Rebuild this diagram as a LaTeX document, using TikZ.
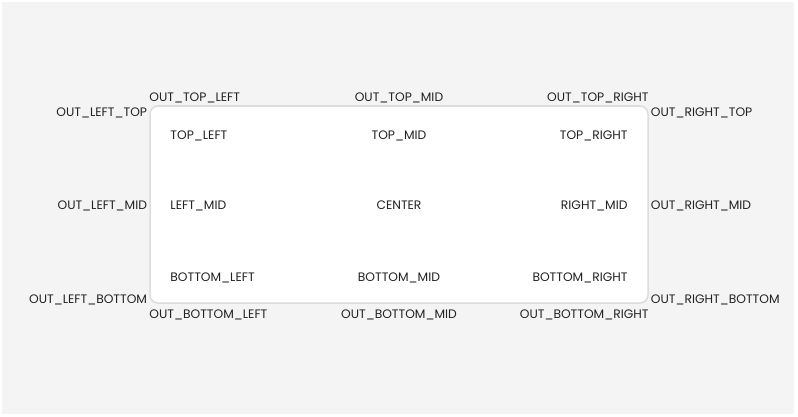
\documentclass[tikz,border=0pt]{standalone}
\usepackage{fontspec}
\setmainfont{Poppins}
\usepackage{tikz}
\usetikzlibrary{calc,positioning,shapes.misc}
\definecolor{pagegray}{HTML}{F4F4F4}
\definecolor{boxline}{HTML}{DDDDDD}
\definecolor{labeltext}{HTML}{222222}
\tikzstyle{lbl} = [inner sep=0pt, text height=10.6pt, text depth=0pt, text=labeltext, font=\fontsize{12.3}{14}\selectfont]
\tikzstyle{panel} = [rectangle, rounded corners=8pt, draw=boxline, line width=1.5pt, fill=white, minimum width=498pt, minimum height=197pt]

\begin{document}
\begin{tikzpicture}[x=1pt, y=1pt]
                \fill [white] (0,0) rectangle (798,416);
                \fill [pagegray] (2,2) rectangle (794,414);
                \useasboundingbox (0,0) rectangle (798,416);

                \node (box) [panel] at (399,211.5) {};

                \node (toplft) [lbl, anchor=west] at ($(box.north west)+(21,-29)$) {TOP\_LEFT};
                \node (topmid) [lbl] at ($(box.north)+(0,-29)$) {TOP\_MID};
                \node (toprgt) [lbl, anchor=east] at ($(box.north east)+(-21,-29)$) {TOP\_RIGHT};
                \node (lftmid) [lbl, anchor=west] at ($(box.west)+(21,0)$) {LEFT\_MID};
                \node (center) [lbl] at (box.center) {CENTER};
                \node (rgtmid) [lbl, anchor=east] at ($(box.east)+(-21,0)$) {RIGHT\_MID};
                \node (botlft) [lbl, anchor=west] at ($(box.south west)+(21,28)$) {BOTTOM\_LEFT};
                \node (botmid) [lbl] at ($(box.south)+(0,28)$) {BOTTOM\_MID};
                \node (botrgt) [lbl, anchor=east] at ($(box.south east)+(-21,28)$) {BOTTOM\_RIGHT};

                \node (outtoplft) [lbl, anchor=west] at ($(box.north west)+(0,9)$) {OUT\_TOP\_LEFT};
                \node (outtopmid) [lbl] at ($(box.north)+(0,9)$) {OUT\_TOP\_MID};
                \node (outtoprgt) [lbl, anchor=east] at ($(box.north east)+(0,9)$) {OUT\_TOP\_RIGHT};
                \node (outlfttop) [lbl, anchor=east] at ($(box.north west)+(-2,-6)$) {OUT\_LEFT\_TOP};
                \node (outlftmid) [lbl, anchor=east] at ($(box.west)+(-2,0)$) {OUT\_LEFT\_MID};
                \node (outlftbot) [lbl, anchor=east] at ($(box.south west)+(-2,6)$) {OUT\_LEFT\_BOTTOM};
                \node (outrgttop) [lbl, anchor=west] at ($(box.north east)+(2,-6)$) {OUT\_RIGHT\_TOP};
                \node (outrgtmid) [lbl, anchor=west] at ($(box.east)+(2,0)$) {OUT\_RIGHT\_MID};
                \node (outrgtbot) [lbl, anchor=west] at ($(box.south east)+(2,6)$) {OUT\_RIGHT\_BOTTOM};
                \node (outbotlft) [lbl, anchor=west] at ($(box.south west)+(0,-9)$) {OUT\_BOTTOM\_LEFT};
                \node (outbotmid) [lbl] at ($(box.south)+(0,-9)$) {OUT\_BOTTOM\_MID};
                \node (outbotrgt) [lbl, anchor=east] at ($(box.south east)+(0,-9)$) {OUT\_BOTTOM\_RIGHT};
            \end{tikzpicture}
\end{document}
